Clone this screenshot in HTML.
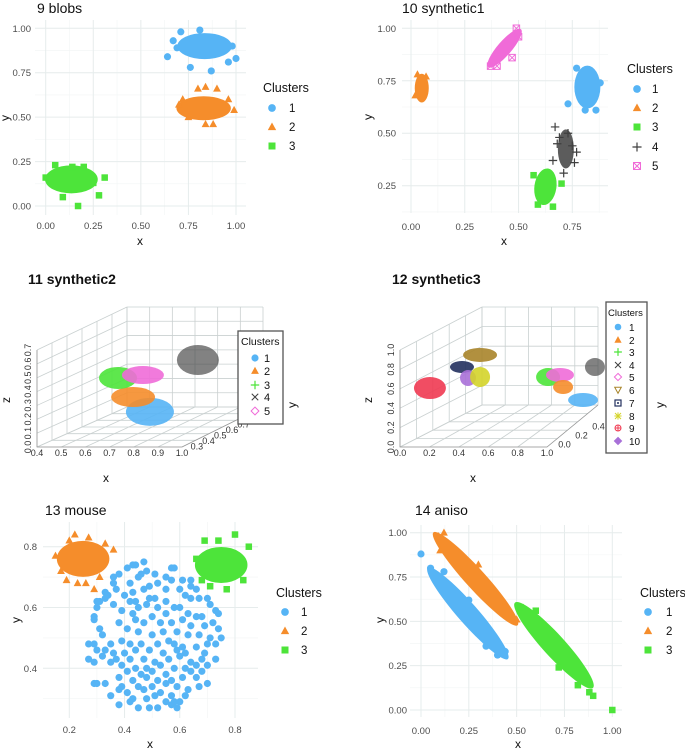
<!DOCTYPE html>
<html><head><meta charset="utf-8"><style>
html,body{margin:0;padding:0;background:#fff}
svg{display:block}
text{font-family:"Liberation Sans",sans-serif}
.title{font-size:14px;fill:#111}
.btitle{font-size:14px;font-weight:bold;fill:#111}
.tick{font-size:9.5px;fill:#4d4d4d}
.tick3{font-size:9px;fill:#333}
.atitle{font-size:12px;fill:#111}
.lt{font-size:12.5px;fill:#111}
.ll{font-size:11.5px;fill:#111}
</style></head><body>
<svg id="chart" width="685" height="749" viewBox="0 0 685 749" xmlns="http://www.w3.org/2000/svg">
<g id="layer"></g>
<text class="title" x="37" y="13">9 blobs</text>
<text class="title" x="402" y="13">10 synthetic1</text>
<text class="btitle" x="28" y="284">11 synthetic2</text>
<text class="btitle" x="392" y="284">12 synthetic3</text>
<text class="title" x="45" y="515">13 mouse</text>
<text class="title" x="415" y="515">14 aniso</text>
<text class="atitle" x="140" y="245" text-anchor="middle">x</text>
<text class="atitle" transform="translate(9,118) rotate(-90)" text-anchor="middle">y</text>
<text class="atitle" x="504" y="245" text-anchor="middle">x</text>
<text class="atitle" transform="translate(372,117) rotate(-90)" text-anchor="middle">y</text>
<text class="atitle" x="150" y="748" text-anchor="middle">x</text>
<text class="atitle" transform="translate(20,620) rotate(-90)" text-anchor="middle">y</text>
<text class="atitle" x="518" y="748" text-anchor="middle">x</text>
<text class="atitle" transform="translate(384,620) rotate(-90)" text-anchor="middle">y</text>
<text class="atitle" x="106" y="482" text-anchor="middle" font-size="10">x</text>
<text class="atitle" transform="translate(10,400) rotate(-90)" text-anchor="middle" font-size="10">z</text>
<text class="atitle" transform="translate(296,405) rotate(-90)" text-anchor="middle" font-size="10">y</text>
<text class="atitle" x="473" y="482" text-anchor="middle" font-size="10">x</text>
<text class="atitle" transform="translate(372,400) rotate(-90)" text-anchor="middle" font-size="10">z</text>
<text class="atitle" transform="translate(664,405) rotate(-90)" text-anchor="middle" font-size="10">y</text>
<g>
<text class="lt" x="263" y="92">Clusters</text>
<text class="ll" x="289" y="112">1</text><text class="ll" x="289" y="131">2</text><text class="ll" x="289" y="150">3</text>
</g>
<g>
<text class="lt" x="627" y="73">Clusters</text>
<text class="ll" x="652" y="93">1</text><text class="ll" x="652" y="112">2</text><text class="ll" x="652" y="131">3</text><text class="ll" x="652" y="151">4</text><text class="ll" x="652" y="170">5</text>
</g>
<g>
<text class="lt" x="276" y="597">Clusters</text>
<text class="ll" x="301" y="616">1</text><text class="ll" x="301" y="635">2</text><text class="ll" x="301" y="654">3</text>
</g>
<g>
<text class="lt" x="640" y="597">Clusters</text>
<text class="ll" x="666" y="616">1</text><text class="ll" x="666" y="635">2</text><text class="ll" x="666" y="654">3</text>
</g>
<g>
<rect x="238" y="331" width="45" height="93" fill="#fff" stroke="#555" stroke-width="1.3"/>
<text x="241" y="345" font-size="10.5" fill="#111">Clusters</text>
<text x="264" y="362" font-size="11" fill="#111">1</text><text x="264" y="375" font-size="11" fill="#111">2</text><text x="264" y="389" font-size="11" fill="#111">3</text><text x="264" y="401" font-size="11" fill="#111">4</text><text x="264" y="415" font-size="11" fill="#111">5</text>
</g>
<g>
<rect x="606" y="302" width="41" height="151" fill="#fff" stroke="#555" stroke-width="1.3"/>
<text x="608" y="316" font-size="9.5" fill="#111">Clusters</text>
<text x="629" y="331" font-size="10" fill="#111">1</text><text x="629" y="344" font-size="10" fill="#111">2</text><text x="629" y="356" font-size="10" fill="#111">3</text><text x="629" y="369" font-size="10" fill="#111">4</text><text x="629" y="381" font-size="10" fill="#111">5</text><text x="629" y="394" font-size="10" fill="#111">6</text><text x="629" y="407" font-size="10" fill="#111">7</text><text x="629" y="420" font-size="10" fill="#111">8</text><text x="629" y="432" font-size="10" fill="#111">9</text><text x="629" y="445" font-size="10" fill="#111">10</text>
</g>
<g id="legendMarks"></g>
</svg>
<script>
const blobs9Cluster=[1,2,3];
const blobs9Core=[[0.76,0.9,0.91,0.9],[0.75,0.55,0.91,0.55],[0.07,0.15,0.2,0.15]];
const blobs9PtsX=[[0.64,0.67,0.71,0.69,0.76,0.87,0.96,1.0,0.98,0.81],[0.70,0.72,0.80,0.84,0.90,0.96,0.99,0.84,0.88,0.75],[0.0,0.05,0.31,0.28,0.17,0.09,0.25,0.14,0.20]];
const blobs9PtsY=[[0.84,0.93,0.98,0.89,0.78,0.76,0.81,0.83,0.90,0.99],[0.57,0.60,0.66,0.67,0.66,0.60,0.54,0.46,0.46,0.50],[0.16,0.23,0.16,0.06,0.0,0.05,0.13,0.22,0.22]];
const blobs9XTicks=[0,0.25,0.5,0.75,1.0];
const blobs9XLabels=["0.00","0.25","0.50","0.75","1.00"];
const blobs9YTicks=[0,0.25,0.5,0.75,1.0];
const blobs9YLabels=["0.00","0.25","0.50","0.75","1.00"];

const syn1Cluster=[1,2,3,4,5];
const syn1Core=[[0.82,0.68,0.82,0.76],[0.05,0.68,0.05,0.75],[0.62,0.21,0.63,0.28],[0.72,0.37,0.72,0.48],[0.38,0.84,0.49,0.97]];
const syn1PtsX=[[0.77,0.73,0.81,0.86,0.88,0.84],[0.03,0.07,0.02],[0.66,0.70,0.57,0.59],[0.67,0.66,0.71,0.69,0.76,0.77,0.73,0.68,0.75],[0.37,0.47,0.50,0.49,0.40]];
const syn1PtsY=[[0.81,0.64,0.61,0.61,0.74,0.79],[0.78,0.77,0.68],[0.15,0.26,0.30,0.16],[0.53,0.37,0.31,0.48,0.36,0.41,0.50,0.45,0.44],[0.82,0.86,0.96,1.0,0.82]];
const syn1XTicks=[0,0.25,0.5,0.75];
const syn1XLabels=["0.00","0.25","0.50","0.75"];
const syn1YTicks=[0.25,0.5,0.75,1.0];
const syn1YLabels=["0.25","0.50","0.75","1.00"];

const mouseCluster=[1,2,3];
const mouseCore=[null,[0.22,0.76,0.28,0.76],[0.72,0.74,0.78,0.74]];
const mouseBlueX=[0.47,0.43,0.44,0.41,0.48,0.46,0.57,0.58,0.51,0.38,0.36,0.45,0.55,0.61,0.57,0.64,0.36,0.42,0.49,0.52,0.55,0.37,0.60,0.64,0.66,0.47,0.43,0.33,0.34,0.40,0.62,0.64,0.67,0.70,0.31,0.30,0.33,0.44,0.49,0.51,0.55,0.42,0.58,0.60,0.71,0.30,0.36,0.39,0.45,0.48,0.52,0.43,0.50,0.55,0.63,0.66,0.68,0.73,0.74,0.29,0.29,0.38,0.44,0.47,0.53,0.57,0.61,0.64,0.72,0.69,0.74,0.31,0.32,0.41,0.45,0.50,0.54,0.59,0.63,0.67,0.71,0.75,0.27,0.29,0.35,0.39,0.42,0.46,0.52,0.56,0.58,0.61,0.66,0.70,0.73,0.30,0.33,0.36,0.40,0.44,0.49,0.54,0.59,0.62,0.69,0.27,0.32,0.37,0.42,0.47,0.51,0.56,0.60,0.64,0.68,0.73,0.29,0.35,0.39,0.44,0.48,0.53,0.58,0.62,0.66,0.70,0.41,0.46,0.50,0.55,0.64,0.68,0.38,0.43,0.48,0.52,0.57,0.61,0.66,0.70,0.29,0.30,0.33,0.39,0.45,0.50,0.55,0.59,0.63,0.67,0.38,0.41,0.47,0.53,0.57,0.62,0.35,0.43,0.48,0.51,0.55,0.58,0.38,0.42,0.45,0.49,0.52,0.57,0.59,0.60];
const mouseBlueY=[0.75,0.74,0.74,0.73,0.72,0.71,0.73,0.73,0.71,0.71,0.70,0.70,0.70,0.69,0.69,0.69,0.68,0.68,0.67,0.68,0.66,0.66,0.66,0.67,0.66,0.66,0.65,0.65,0.64,0.64,0.64,0.63,0.63,0.63,0.62,0.62,0.63,0.62,0.63,0.63,0.62,0.62,0.60,0.60,0.61,0.60,0.61,0.59,0.60,0.61,0.60,0.58,0.57,0.58,0.58,0.57,0.57,0.59,0.58,0.57,0.56,0.55,0.56,0.55,0.55,0.55,0.56,0.54,0.55,0.54,0.53,0.53,0.51,0.53,0.52,0.51,0.52,0.52,0.51,0.51,0.50,0.50,0.48,0.48,0.48,0.49,0.48,0.48,0.48,0.49,0.48,0.47,0.47,0.48,0.48,0.46,0.46,0.45,0.45,0.46,0.46,0.45,0.46,0.45,0.45,0.43,0.44,0.43,0.43,0.43,0.42,0.43,0.44,0.42,0.43,0.43,0.42,0.42,0.41,0.40,0.40,0.41,0.40,0.40,0.41,0.41,0.39,0.38,0.39,0.38,0.39,0.39,0.37,0.36,0.37,0.36,0.36,0.37,0.37,0.35,0.35,0.35,0.35,0.34,0.34,0.34,0.35,0.34,0.33,0.34,0.33,0.32,0.33,0.32,0.31,0.31,0.31,0.30,0.30,0.31,0.29,0.29,0.28,0.29,0.27,0.27,0.27,0.28,0.27,0.29];
const mousePtsX=[null,[0.15,0.22,0.27,0.33,0.36,0.19,0.23,0.26,0.29,0.17,0.31,0.20],[0.66,0.68,0.71,0.80,0.85,0.77,0.83,0.69,0.74]];
const mousePtsY=[null,[0.77,0.84,0.83,0.81,0.79,0.69,0.68,0.68,0.66,0.72,0.70,0.82],[0.76,0.69,0.67,0.84,0.80,0.66,0.69,0.82,0.82]];
const mouseXTicks=[0.2,0.4,0.6,0.8];
const mouseXLabels=["0.2","0.4","0.6","0.8"];
const mouseYTicks=[0.4,0.6,0.8];
const mouseYLabels=["0.4","0.6","0.8"];

const anisoCluster=[1,2,3];
const anisoCore=[[0.07,0.76,0.42,0.33],[0.10,0.96,0.47,0.52],[0.53,0.56,0.86,0.17]];
const anisoPtsX=[[0.0,0.05,0.44,0.34,0.40,0.25,0.12],[0.12,0.09,0.10,0.50,0.30,0.44],[0.88,0.90,1.0,0.82,0.52,0.72,0.60]];
const anisoPtsY=[[0.88,0.80,0.33,0.36,0.31,0.62,0.78],[1.0,0.98,0.90,0.51,0.82,0.60],[0.10,0.08,0.0,0.14,0.58,0.24,0.56]];
const anisoXTicks=[0,0.25,0.5,0.75,1.0];
const anisoXLabels=["0.00","0.25","0.50","0.75","1.00"];
const anisoYTicks=[0,0.25,0.5,0.75,1.0];
const anisoYLabels=["0.00","0.25","0.50","0.75","1.00"];

const syn2Cluster=[1,2,3,5,4];
const syn2X=[0.843,0.725,0.590,0.693,0.872];
const syn2Y=[0.30,0.40,0.55,0.55,0.65];
const syn2Z=[0.234,0.301,0.379,0.40,0.469];
const syn2XTicks=[0.4,0.5,0.6,0.7,0.8,0.9,1.0];
const syn2XLabels=["0.4","0.5","0.6","0.7","0.8","0.9","1.0"];
const syn2YTicks=[0.3,0.4,0.5,0.6,0.7];
const syn2YLabels=["0.3","0.4","0.5","0.6","0.7"];
const syn2ZTicks=[0,0.1,0.2,0.3,0.4,0.5,0.6,0.7];
const syn2ZLabels=["0.0","0.1","0.2","0.3","0.4","0.5","0.6","0.7"];

const syn3Cluster=[6,7,9,10,8,3,5,2,1,4];
const syn3X=[0.429,0.306,0.088,0.347,0.429,0.776,0.857,0.878,1.014,1.095];
const syn3Y=[0.1,0.1,0.1,0.1,0.1,0.3,0.3,0.3,0.3,0.3];
const syn3Z=[0.856,0.732,0.515,0.619,0.629,0.536,0.557,0.433,0.299,0.639];
const syn3XTicks=[0,0.2,0.4,0.6,0.8,1.0];
const syn3XLabels=["0.0","0.2","0.4","0.6","0.8","1.0"];
const syn3YTicks=[0,0.2,0.4];
const syn3YLabels=["0.0","0.2","0.4"];
const syn3ZTicks=[0,0.2,0.4,0.6,0.8,1.0];
const syn3ZLabels=["0.0","0.2","0.4","0.6","0.8","1.0"];

const COL={1:'#56B4F5',2:'#F58D2B',3:'#4DE43A',4:'#3F3F3F',5:'#F06BD8',6:'#A8842A',7:'#22305E',8:'#D4D42A',9:'#F03A52',10:'#A870D8'};
const SHAPE={1:'circle',2:'triangle',3:'square',4:'plus',5:'xsquare'};
const SHAPE3D={1:'circle',2:'triangle',3:'plus',4:'cross',5:'diamond',6:'dtriangle',7:'dotsquare',8:'asterisk',9:'circleplus',10:'fdiamond'};
const blobs9Hw=[13,12,14], syn1Hw=[13,7,11,8,7], mouseHw=[0,18,18], anisoHw=[10,10,11];
const syn2Rx=[24,22,19,21,21], syn2Ry=[14,10,11,9,15];
const syn3Rx=[17,12,16,8,10,12,14,10,15,10], syn3Ry=[7,6,11,8,10,9,7,7,7,9];

const NS='http://www.w3.org/2000/svg';
const layer=document.getElementById('layer');
function mk(tag,attrs,parent){const e=document.createElementNS(NS,tag);for(const k in attrs)e.setAttribute(k,attrs[k]);(parent||layer).appendChild(e);return e;}
function sc(d0,d1,r0,r1){return v=>r0+(v-d0)*(r1-r0)/(d1-d0);}

function marker(parent,shape,x,y,s,col){
  let e;
  if(shape==='circle'){e=mk('circle',{cx:x,cy:y,r:s*0.55,fill:col},parent);}
  else if(shape==='triangle'){e=mk('polygon',{points:`${x},${y-s*0.65} ${x-s*0.6},${y+s*0.45} ${x+s*0.6},${y+s*0.45}`,fill:col},parent);}
  else if(shape==='dtriangle'){e=mk('polygon',{points:`${x},${y+s*0.55} ${x-s*0.55},${y-s*0.45} ${x+s*0.55},${y-s*0.45}`,fill:'none',stroke:col,'stroke-width':1},parent);}
  else if(shape==='square'){e=mk('rect',{x:x-s*0.5,y:y-s*0.5,width:s,height:s,fill:col},parent);}
  else if(shape==='plus'){e=mk('path',{d:`M${x-s*0.65},${y}H${x+s*0.65}M${x},${y-s*0.65}V${y+s*0.65}`,stroke:col,'stroke-width':1.2,fill:'none'},parent);}
  else if(shape==='cross'){const d=s*0.5;e=mk('path',{d:`M${x-d},${y-d}L${x+d},${y+d}M${x-d},${y+d}L${x+d},${y-d}`,stroke:col,'stroke-width':1,fill:'none'},parent);}
  else if(shape==='asterisk'){const d=s*0.5;e=mk('path',{d:`M${x-d},${y-d}L${x+d},${y+d}M${x-d},${y+d}L${x+d},${y-d}M${x-d*1.2},${y}H${x+d*1.2}M${x},${y-d*1.2}V${y+d*1.2}`,stroke:col,'stroke-width':1,fill:'none'},parent);}
  else if(shape==='xsquare'){const d=s*0.5;e=mk('path',{d:`M${x-d},${y-d}h${s}v${s}h${-s}zM${x-d},${y-d}L${x+d},${y+d}M${x-d},${y+d}L${x+d},${y-d}`,stroke:col,'stroke-width':1,fill:'none'},parent);}
  else if(shape==='diamond'||shape==='fdiamond'){const d=s*0.6;e=mk('polygon',{points:`${x},${y-d} ${x+d},${y} ${x},${y+d} ${x-d},${y}`,fill:shape==='fdiamond'?col:'none',stroke:col,'stroke-width':1},parent);}
  else if(shape==='dotsquare'){const d=s*0.5;e=mk('rect',{x:x-d,y:y-d,width:s,height:s,fill:'none',stroke:col,'stroke-width':1.2},parent);mk('circle',{cx:x,cy:y,r:1,fill:col},parent);}
  else if(shape==='circleplus'){e=mk('circle',{cx:x,cy:y,r:s*0.5,fill:'none',stroke:col,'stroke-width':1},parent);mk('path',{d:`M${x-s*0.5},${y}H${x+s*0.5}M${x},${y-s*0.5}V${y+s*0.5}`,stroke:col,'stroke-width':1},parent);}
  return e;
}

function panel2D(name,X,Y,rect,xt,xl,yt,yl,xMinor,yMinor,tickYx,tickXy,cl,core,hw,px,py,extra){
  const g=mk('g',{});
  
  
  xMinor.forEach(v=>{mk('line',{x1:X(v),x2:X(v),y1:rect[1],y2:rect[3],stroke:'#f2f5f5','stroke-width':0.6},g);});
  yMinor.forEach(v=>{mk('line',{x1:rect[0],x2:rect[2],y1:Y(v),y2:Y(v),stroke:'#f2f5f5','stroke-width':0.6},g);});
  xt.forEach((v,i)=>{
    const l=mk('line',{x1:X(v),x2:X(v),y1:rect[1],y2:rect[3],stroke:'#e6ecec','stroke-width':1},g);
    
    
    const t=mk('text',{x:X(v),y:tickXy,'text-anchor':'middle',class:'tick'},g);t.textContent=xl[i];
    
    
  });
  yt.forEach((v,i)=>{
    const l=mk('line',{x1:rect[0],x2:rect[2],y1:Y(v),y2:Y(v),stroke:'#e6ecec','stroke-width':1},g);
    
    
    const t=mk('text',{x:tickYx,y:Y(v)+3.5,'text-anchor':'end',class:'tick'},g);t.textContent=yl[i];
    
    
  });
  if(extra)extra(g);
  cl.forEach((c,i)=>{
    const col=COL[c];
    if(core[i]){
      const a=core[i];const x1=X(a[0]),y1=Y(a[1]),x2=X(a[2]),y2=Y(a[3]);
      const cx=(x1+x2)/2,cy=(y1+y2)/2,len=Math.hypot(x2-x1,y2-y1)/2,ang=Math.atan2(y2-y1,x2-x1)*180/Math.PI;
      const e=mk('ellipse',{cx:cx,cy:cy,rx:len+hw[i],ry:hw[i],fill:col,'fill-opacity':c===4?0.85:1,transform:`rotate(${ang} ${cx} ${cy})`},g);
      
      
    }
    if(px[i])px[i].forEach((v,j)=>{
      const m=marker(g,SHAPE[c],X(v),Y(py[i][j]),6.5,col);
      
      
    });
  });
}

panel2D('blobs',sc(0,1,45.7,236),sc(0,1,206,28.3),[35,20,246,215],blobs9XTicks,blobs9XLabels,blobs9YTicks,blobs9YLabels,[0.125,0.375,0.625,0.875],[0.125,0.375,0.625,0.875],31,229,blobs9Cluster,blobs9Core,blobs9Hw,blobs9PtsX,blobs9PtsY);
panel2D('synthetic1',sc(0,0.75,411,572.3),sc(0.25,1,185.7,28.3),[402,20,608,213],syn1XTicks,syn1XLabels,syn1YTicks,syn1YLabels,[0.125,0.375,0.625,0.875],[0.125,0.375,0.625,0.875],396,230,syn1Cluster,syn1Core,syn1Hw,syn1PtsX,syn1PtsY);
const mX=sc(0.2,0.8,69.3,235),mY=sc(0.4,0.8,668.3,546.7);
panel2D('mouse',mX,mY,[43,522,258,718],mouseXTicks,mouseXLabels,mouseYTicks,mouseYLabels,[0.3,0.5,0.7],[0.3,0.5,0.7],37,733,mouseCluster,mouseCore,mouseHw,mousePtsX,mousePtsY,g=>{
  mouseBlueX.forEach((v,j)=>{
    const m=marker(g,'circle',mX(v),mY(mouseBlueY[j]),6.5,COL[1]);
    
    
  });
});
panel2D('aniso',sc(0,1,421,612.3),sc(0,1,710,532.7),[410,525,622,717],anisoXTicks,anisoXLabels,anisoYTicks,anisoYLabels,[0.125,0.375,0.625,0.875],[0.125,0.375,0.625,0.875],407,734,anisoCluster,anisoCore,anisoHw,anisoPtsX,anisoPtsY);

function lerp(a,b,t){return [a[0]+(b[0]-a[0])*t,a[1]+(b[1]-a[1])*t];}
function box3D(name,FL0,FL1,BL0,BL1,BR0,BR1,FR0,nx,nd,nz){
  const g=mk('g',{});
  
  
  const st={stroke:'#c9d0d0','stroke-width':0.8,fill:'none'};
  const ln=(p,q)=>mk('line',Object.assign({x1:p[0],y1:p[1],x2:q[0],y2:q[1]},st),g);
  for(let i=0;i<=nd;i++){const t=i/nd;ln(lerp(FL0,BL0,t),lerp(FL1,BL1,t));}
  for(let j=0;j<=nz;j++){const t=j/nz;ln(lerp(FL0,FL1,t),lerp(BL0,BL1,t));}
  for(let i=0;i<=nx;i++){const t=i/nx;ln(lerp(BL0,BR0,t),lerp(BL1,BR1,t));}
  for(let j=0;j<=nz;j++){const t=j/nz;ln(lerp(BL0,BL1,t),lerp(BR0,BR1,t));}
  for(let i=0;i<=nx;i++){const t=i/nx;ln(lerp(FL0,FR0,t),lerp(BL0,BR0,t));}
  for(let i=0;i<=nd;i++){const t=i/nd;ln(lerp(FL0,BL0,t),lerp(FR0,BR0,t));}
  mk('path',{d:`M${FL1[0]},${FL1[1]}L${FL0[0]},${FL0[1]}L${FR0[0]},${FR0[1]}L${BR0[0]},${BR0[1]}`,stroke:'#999',fill:'none','stroke-width':0.8},g);
}
function panel3D(name,P,cl,xs,ys,zs,rx,ry,xt,xl,yt,yl,zt,zl,zx,xLab){
  const g=mk('g',{});
  
  
  cl.forEach((c,i)=>{
    const p=P(xs[i],ys[i],zs[i]);
    const e=mk('ellipse',{cx:p[0],cy:p[1],rx:rx[i],ry:ry[i],fill:COL[c],'fill-opacity':c===4?0.65:0.9},g);
    
    
  });
  xt.forEach((v,i)=>{const p=P(v,P.y0,0);const t=mk('text',{x:p[0],y:xLab,'text-anchor':'middle',class:'tick3'},g);t.textContent=xl[i];
    
    });
  yt.forEach((v,i)=>{const p=P(P.x1,v,0);const t=mk('text',{x:p[0]+9,y:p[1]+5,'text-anchor':'middle',class:'tick3'},g);t.textContent=yl[i];
    
    });
  zt.forEach((v,i)=>{const p=P(P.x0,P.y0,v);const t=mk('text',{transform:`translate(${zx},${p[1]}) rotate(-90)`,'text-anchor':'middle',class:'tick3'},g);t.textContent=zl[i];
    
    });
}
box3D('synthetic2',[37,447],[37,350],[127,407],[127,307],[263,407],[263,307],[182,447],6,6,7);
const P11=(x,y,z)=>[37+241.7*(x-0.4)+117*(y-0.25),447-55*(y-0.25)-138.6*z];
P11.x0=0.4;P11.x1=1.0;P11.y0=0.25;
panel3D('synthetic2',P11,syn2Cluster,syn2X,syn2Y,syn2Z,syn2Rx,syn2Ry,syn2XTicks,syn2XLabels,syn2YTicks,syn2YLabels,syn2ZTicks,syn2ZLabels,31,456);
box3D('synthetic3',[400,447],[400,350],[482,405],[482,307],[598,405],[598,307],[547,447],5,5,5);
const P12=(x,y,z)=>[400+147*x+85*(y+0.1),447-45*(y+0.1)-97*z];
P12.x0=0;P12.x1=1.0;P12.y0=-0.1;
panel3D('synthetic3',P12,syn3Cluster,syn3X,syn3Y,syn3Z,syn3Rx,syn3Ry,syn3XTicks,syn3XLabels,syn3YTicks,syn3YLabels,syn3ZTicks,syn3ZLabels,394,456);

const lg=document.getElementById('legendMarks');
function legendSet(cls,xs,ys,shapes,s){
  cls.forEach((c,i)=>{
    const m=marker(lg,shapes[c],xs,ys[i],s,COL[c]);
    
    
  });
}
legendSet([1,2,3],272,[108,127,146],SHAPE,7);
legendSet([1,2,3,4,5],637,[89,108,127,147,166],SHAPE,7);
legendSet([1,2,3],285,[612,631,650],SHAPE,7);
legendSet([1,2,3],648,[612,631,650],SHAPE,7);
legendSet([1,2,3,4,5],255,[358,371,385,397,411],SHAPE3D,6.5);
legendSet([1,2,3,4,5,6,7,8,9,10],618,[327,340,352,365,377,390,403,416,428,441],SHAPE3D,6);
</script>
</body></html>
